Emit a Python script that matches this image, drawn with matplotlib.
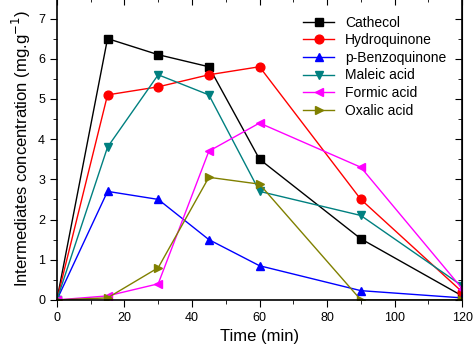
import matplotlib
matplotlib.use('Agg')
from matplotlib import pyplot as plt
from matplotlib.ticker import MultipleLocator

plt.rcParams['font.family'] = ['Liberation Sans', 'DejaVu Sans']

time = [0, 15, 30, 45, 60, 90, 120]
cathecol = [0, 6.5, 6.1, 5.8, 3.5, 1.52, 0.1]
hydroquinone = [0, 5.1, 5.3, 5.6, 5.8, 2.5, 0.2]
benzoquinone = [0, 2.7, 2.5, 1.5, 0.85, 0.23, 0.05]
maleic = [0, 3.8, 5.6, 5.1, 2.7, 2.1, 0.35]
formic = [0, 0.1, 0.4, 3.7, 4.4, 3.3, 0.28]
oxalic = [0, 0.05, 0.8, 3.05, 2.88, 0, 0]

series = [
    ('Cathecol', cathecol, 'black', 's'),
    ('Hydroquinone', hydroquinone, 'red', 'o'),
    ('p-Benzoquinone', benzoquinone, 'blue', '^'),
    ('Maleic acid', maleic, '#008080', 'v'),
    ('Formic acid', formic, 'magenta', '<'),
    ('Oxalic acid', oxalic, '#808000', '>'),
]

fig = plt.figure(figsize=(4.74, 3.52), dpi=100)
# top spine sits just above the image edge, like the cropped original
ax = fig.add_axes([0.120, 0.148, 0.855, 301.5 / 352])

for name, vals, col, mk in series:
    ax.plot(time, vals, color=col, marker=mk, markersize=6.3, linewidth=1, label=name)

ax.set_xlim(0, 120)
ax.set_ylim(0, 7.5)
ax.xaxis.set_major_locator(MultipleLocator(20))
ax.xaxis.set_minor_locator(MultipleLocator(10))
ax.yaxis.set_major_locator(MultipleLocator(1))
ax.yaxis.set_minor_locator(MultipleLocator(0.5))
ax.tick_params(which='both', direction='out', labelsize=9)
ax.tick_params(which='major', length=5)
ax.tick_params(which='minor', length=3)
# mirror ticks on top/right pointing inward
axt = ax.secondary_xaxis('top')
axt.xaxis.set_major_locator(MultipleLocator(20))
axt.xaxis.set_minor_locator(MultipleLocator(10))
axt.tick_params(which='both', direction='in', labeltop=False)
axt.tick_params(which='major', length=5)
axt.tick_params(which='minor', length=3)
axr = ax.secondary_yaxis('right')
axr.yaxis.set_major_locator(MultipleLocator(1))
axr.yaxis.set_minor_locator(MultipleLocator(0.5))
axr.tick_params(which='both', direction='in', labelright=False)
axr.tick_params(which='major', length=5)
axr.tick_params(which='minor', length=3)

for sp in ax.spines.values():
    sp.set_linewidth(1.2)

ax.set_xlabel('Time (min)', fontsize=12)
ax.set_ylabel('Intermediates concentration (mg.g$^{-1}$)', fontsize=12)
ax.legend(loc='upper right', frameon=False, fontsize=10, handlelength=2.2,
          labelspacing=0.26, borderaxespad=0.3, bbox_to_anchor=(0.985, 0.975))

fig.savefig('out.png', dpi=100)
